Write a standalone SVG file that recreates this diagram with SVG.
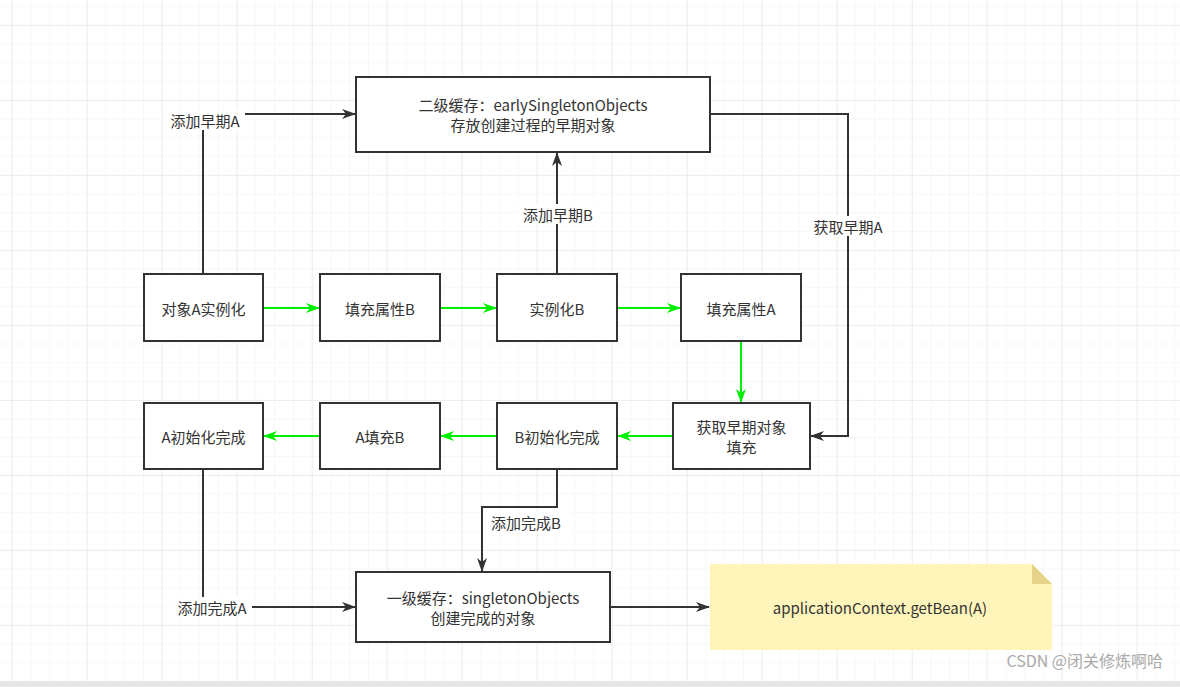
<svg xmlns="http://www.w3.org/2000/svg" width="1180" height="687" viewBox="0 0 1180 687">
<style>
.box{fill:#fff;stroke:#333;stroke-width:2}
.t{font-family:"Noto Sans CJK SC","Liberation Sans",sans-serif;font-size:15px;fill:#333;text-anchor:middle;dominant-baseline:central}
.lbl{font-family:"Noto Sans CJK SC","Liberation Sans",sans-serif;font-size:15px;fill:#333;text-anchor:middle;dominant-baseline:central}
.k{fill:none;stroke:#333;stroke-width:2}
.g{fill:none;stroke:#00ee00;stroke-width:2}
</style>
<defs>
<pattern id="mg" x="11.7" y="6" width="18.75" height="18.75" patternUnits="userSpaceOnUse">
<path d="M0 0H18.75M0 0V18.75" stroke="#f0f0f0" stroke-width="1" fill="none"/>
</pattern>
<pattern id="Mg" x="11.7" y="25" width="75" height="75" patternUnits="userSpaceOnUse">
<path d="M0 0H75M0 0V75" stroke="#e4e4e4" stroke-width="1" fill="none"/>
</pattern>
<marker id="ak" markerWidth="14" markerHeight="10" refX="13" refY="5" orient="auto" markerUnits="userSpaceOnUse"><path d="M0 0L14 5L0 10L4 5Z" fill="#333"/></marker>
<marker id="ag" markerWidth="14" markerHeight="10" refX="13" refY="5" orient="auto" markerUnits="userSpaceOnUse"><path d="M0 0L14 5L0 10L4 5Z" fill="#00ee00"/></marker>
</defs>
<rect width="1180" height="687" fill="#fff"/>
<rect width="1180" height="681" fill="url(#mg)"/>
<rect width="1180" height="681" fill="url(#Mg)"/>
<rect y="681" width="1180" height="6" fill="#e6e6e6"/>
<g id="connectors">
<path class="k" d="M203 274V114H355" marker-end="url(#ak)"/>
<path class="k" d="M557 274V153" marker-end="url(#ak)"/>
<path class="k" d="M710 114H848V436H811" marker-end="url(#ak)"/>
<path class="k" d="M557 469V507H482V571" marker-end="url(#ak)"/>
<path class="k" d="M203 469V607H355" marker-end="url(#ak)"/>
<path class="k" d="M610 607H709" marker-end="url(#ak)"/>
<path class="g" d="M263 308H319" marker-end="url(#ag)"/>
<path class="g" d="M440 308H496" marker-end="url(#ag)"/>
<path class="g" d="M617 308H680" marker-end="url(#ag)"/>
<path class="g" d="M741 342V402" marker-end="url(#ag)"/>
<path class="g" d="M673 436H618" marker-end="url(#ag)"/>
<path class="g" d="M497 436H441" marker-end="url(#ag)"/>
<path class="g" d="M320 436H264" marker-end="url(#ag)"/>
<rect x="165" y="110" width="80" height="20" fill="#fff"/>
<text class="lbl" x="205" y="120">添加早期A</text>
<rect x="518" y="204" width="80" height="20" fill="#fff"/>
<text class="lbl" x="558" y="214">添加早期B</text>
<rect x="808" y="216" width="80" height="20" fill="#fff"/>
<text class="lbl" x="848" y="226">获取早期A</text>
<rect x="483" y="512" width="88" height="20" fill="#fff"/>
<text class="lbl" x="526" y="522">添加完成B</text>
<rect x="172" y="597" width="80" height="20" fill="#fff"/>
<text class="lbl" x="212" y="607">添加完成A</text>
</g>
<g id="cache2"><rect class="box" x="356" y="77" width="354" height="75"/><text class="t" x="533" y="104">二级缓存：earlySingletonObjects</text><text class="t" x="533" y="124">存放创建过程的早期对象</text></g>
<g id="aInst"><rect class="box" x="144" y="274" width="119" height="67"/><text class="t" x="203.5" y="308">对象A实例化</text></g>
<g id="fillB"><rect class="box" x="320" y="274" width="120" height="67"/><text class="t" x="380" y="308">填充属性B</text></g>
<g id="bInst"><rect class="box" x="497" y="274" width="120" height="67"/><text class="t" x="557" y="308">实例化B</text></g>
<g id="fillA"><rect class="box" x="681" y="274" width="120" height="67"/><text class="t" x="741" y="308">填充属性A</text></g>
<g id="getEarly"><rect class="box" x="673" y="403" width="137" height="66"/><text class="t" x="741.5" y="426">获取早期对象</text><text class="t" x="741.5" y="446">填充</text></g>
<g id="bDone"><rect class="box" x="497" y="403" width="120" height="66"/><text class="t" x="557" y="436">B初始化完成</text></g>
<g id="aFillB"><rect class="box" x="320" y="403" width="120" height="66"/><text class="t" x="380" y="436">A填充B</text></g>
<g id="aDone"><rect class="box" x="144" y="403" width="119" height="66"/><text class="t" x="203.5" y="436">A初始化完成</text></g>
<g id="cache1"><rect class="box" x="356" y="572" width="254" height="70"/><text class="t" x="483" y="597">一级缓存：singletonObjects</text><text class="t" x="483" y="617">创建完成的对象</text></g>
<g id="note"><path d="M710 564H1032L1052 584V650H710Z" fill="#fff5bb"/><path d="M1032 564L1052 584H1032Z" fill="#e6d38a"/><text class="t" x="880" y="607" font-size="16">applicationContext.getBean(A)</text></g>
<text x="1163" y="667" font-family="'Noto Sans CJK SC','Liberation Sans',sans-serif" font-size="16" fill="#aaa" text-anchor="end">CSDN @闭关修炼啊哈</text>
</svg>
